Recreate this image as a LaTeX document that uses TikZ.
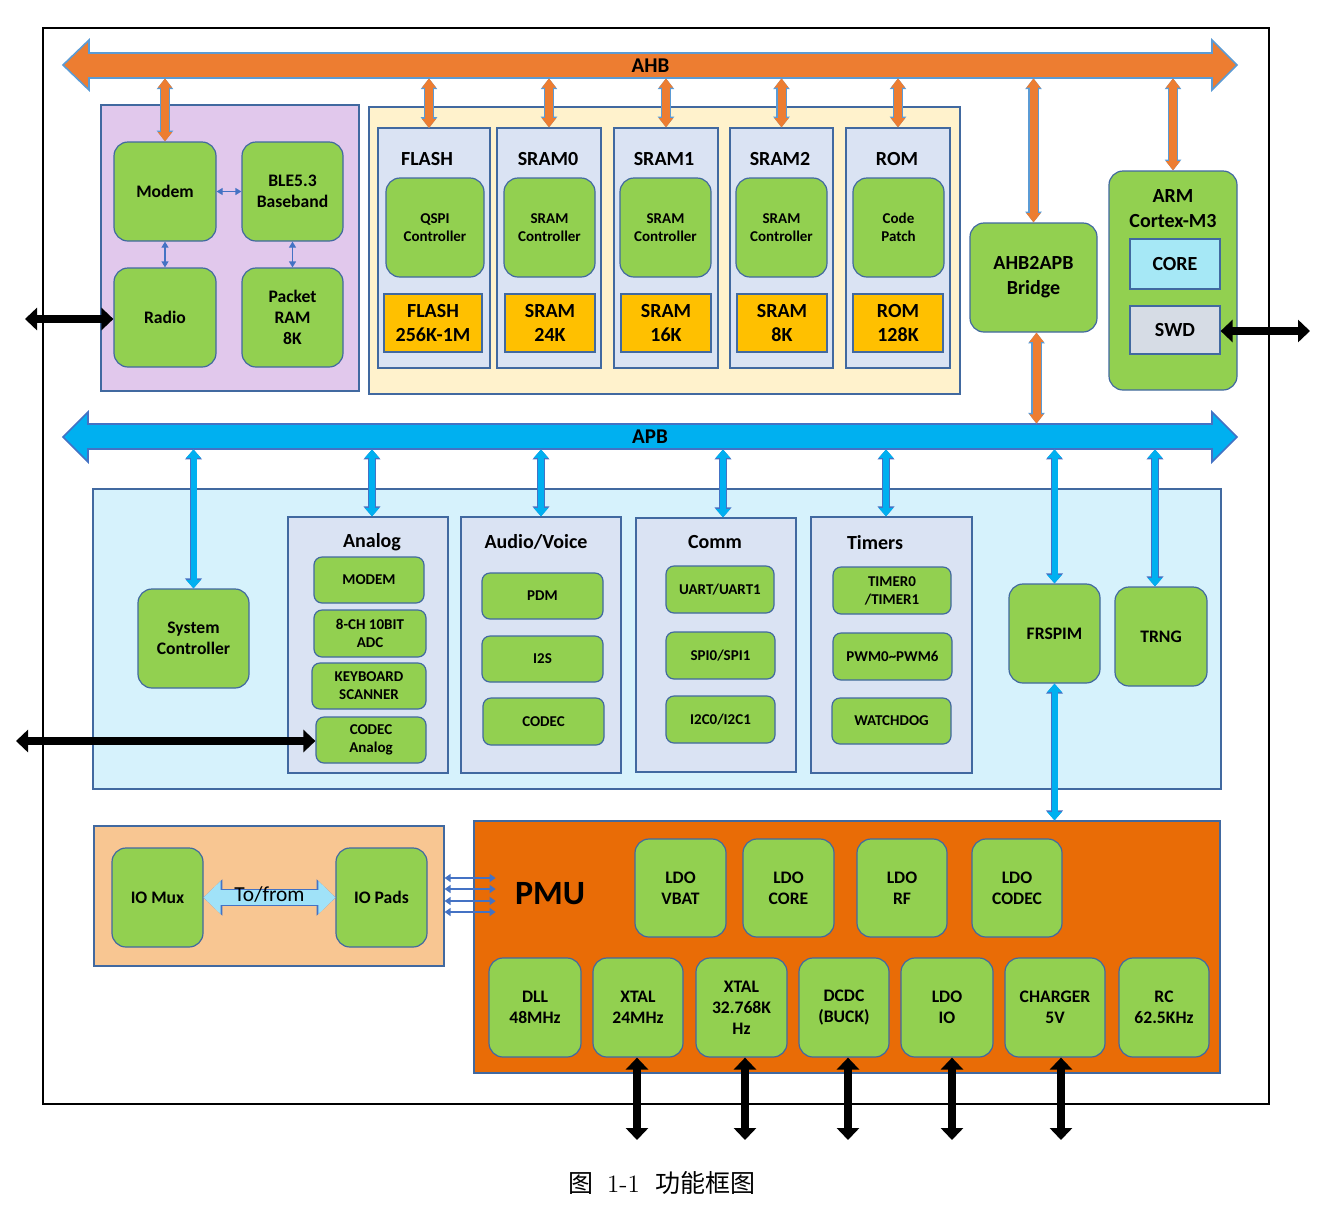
\documentclass[tikz,border=0pt]{standalone}
\usepackage{fontspec}
\setmainfont{Carlito}
\newfontfamily\cjkfont{Noto Sans CJK SC}
\newfontfamily\capfont{Latin Modern Roman}
\definecolor{blkgreen}{RGB}{146,208,80}
\definecolor{blkedge}{RGB}{65,105,160}
\definecolor{ahborange}{RGB}{237,125,49}
\definecolor{apbblue}{RGB}{0,176,240}
\definecolor{busedge}{RGB}{91,155,213}
\definecolor{linkblue}{RGB}{68,114,196}
\definecolor{rfpurple}{RGB}{225,200,236}
\definecolor{memcream}{RGB}{255,242,204}
\definecolor{grpblue}{RGB}{218,227,243}
\definecolor{memgold}{RGB}{255,192,0}
\definecolor{corecyan}{RGB}{166,232,246}
\definecolor{swdgrey}{RGB}{214,220,229}
\definecolor{perisky}{RGB}{214,242,252}
\definecolor{iopeach}{RGB}{248,198,146}
\definecolor{pmuorange}{RGB}{233,108,6}
\definecolor{tofromblue}{RGB}{160,226,248}
\usetikzlibrary{arrows.meta}

\begin{document}
\begin{tikzpicture}[
  x=0.5pt, y=-0.5pt,
  span/.style args={#1/#2/#3/#4}{minimum width={(#3-#1)*0.5pt}, minimum height={(#4-#2)*0.5pt},
    at={({(#1+#3)/2},{(#2+#4)/2})}},
  rgn/.style={draw=blkedge, line width=0.6pt, inner sep=0pt},
  grp/.style={rgn, fill=grpblue},
  blk/.style={draw=blkedge, fill=blkgreen, line width=0.6pt, rounded corners=7pt,
    inner sep=0pt, align=center, font=\fontsize{8.8}{10.5}\selectfont\bfseries},
  sblk/.style={blk, rounded corners=4pt, font=\fontsize{7.5}{9}\selectfont\bfseries},
  ctl/.style={blk, font=\fontsize{7.5}{9}\selectfont\bfseries},
  memsz/.style={rgn, fill=memgold, align=center, font=\fontsize{10}{12}\selectfont\bfseries},
  ttl/.style={inner sep=0pt, align=center, font=\fontsize{10}{12.5}\selectfont\bfseries},
  busttl/.style={inner sep=0pt, font=\fontsize{10.5}{12}\selectfont\bfseries},
  ahbarw/.style={line width=4pt, ahborange,
    arrows={Triangle[width=6.8pt,length=4.6pt]-Triangle[width=6.8pt,length=4.6pt]},
    preaction={draw=busedge, line width=5.2pt,
      arrows={Triangle[width=8pt,length=5.4pt]-Triangle[width=8pt,length=5.4pt]}}},
  apbarw/.style={line width=3pt, apbblue,
    arrows={Triangle[width=7pt,length=4.2pt]-Triangle[width=7pt,length=4.2pt]},
    preaction={draw=linkblue, line width=3.8pt,
      arrows={Triangle[width=8.2pt,length=5pt]-Triangle[width=8.2pt,length=5pt]}}},
  pinarw/.style={line width=4pt, black,
    arrows={Triangle[width=11pt,length=6pt]-Triangle[width=11pt,length=6pt]}},
  lnk/.style={line width=0.6pt, linkblue,
    arrows={Triangle[width=3.5pt,length=3pt]-Triangle[width=3.5pt,length=3pt]}},
  iolink/.style={line width=1.2pt, linkblue,
    arrows={Triangle[width=4pt,length=3pt]-Triangle[width=4pt,length=3pt]}},
  tofrom/.style={line width=7.5pt, tofromblue,
    arrows={Triangle[width=16pt,length=8.5pt]-Triangle[width=16pt,length=8.5pt]},
    preaction={draw=linkblue, line width=8.5pt,
      arrows={Triangle[width=17.6pt,length=9.4pt]-Triangle[width=17.6pt,length=9.4pt]}}},
]
\useasboundingbox (0,0) rectangle (1322,1206);
\draw[line width=0.6pt] (43,28) rectangle (1269,1104);

% buses
\draw[draw=busedge, fill=ahborange, line width=0.8pt] (63,65) -- (89,40) -- (89,53) -- (1212,53)
  -- (1212,40) -- (1237,65) -- (1212,90) -- (1212,78) -- (89,78) -- (89,90) -- cycle;
\node[busttl, span=89/53/1212/78] (ahb) {AHB};
\draw[draw=linkblue, fill=apbblue, line width=0.8pt] (63,437) -- (88,412) -- (88,424) -- (1212,424)
  -- (1212,412) -- (1237,437) -- (1212,462) -- (1212,449) -- (88,449) -- (88,462) -- cycle;
\node[busttl, span=88/424/1212/449] (apb) {APB};

% radio
\node[rgn, fill=rfpurple, span=101/105/359/391] (rfsys) {};
\node[blk, span=114/142/216/241] (modem) {Modem};
\node[blk, span=242/142/343/241] (ble) {BLE5.3\\Baseband};
\node[blk, span=114/268/216/367] (radio) {Radio};
\node[blk, span=242/268/343/367] (pram) {Packet\\RAM\\8K};

% memories
\node[rgn, fill=memcream, span=369/107/960/394] (memsys) {};
\node[grp, span=378/128/490/368] (flash) {};
\node[grp, span=497/128/601/368] (sram0) {};
\node[grp, span=614/128/718/368] (sram1) {};
\node[grp, span=730/128/833/368] (sram2) {};
\node[grp, span=846/128/950/368] (rom) {};
\node[ttl] (flashttl) at (427,159) {FLASH};
\node[ttl] (sram0ttl) at (548,159) {SRAM0};
\node[ttl] (sram1ttl) at (664,159) {SRAM1};
\node[ttl] (sram2ttl) at (780,159) {SRAM2};
\node[ttl] (romttl) at (897,159) {ROM};
\node[ctl, span=386/178/484/277] (qspi) {QSPI\\Controller};
\node[ctl, span=504/178/595/277] (sctl0) {SRAM\\Controller};
\node[ctl, span=620/178/711/277] (sctl1) {SRAM\\Controller};
\node[ctl, span=736/178/827/277] (sctl2) {SRAM\\Controller};
\node[ctl, span=853/178/944/277] (patch) {Code\\Patch};
\node[memsz, span=384/294/482/352] (flashsz) {FLASH\\256K-1M};
\node[memsz, span=505/294/595/352] (sram0sz) {SRAM\\24K};
\node[memsz, span=621/294/711/352] (sram1sz) {SRAM\\16K};
\node[memsz, span=737/294/827/352] (sram2sz) {SRAM\\8K};
\node[memsz, span=853/294/943/352] (romsz) {ROM\\128K};

% bridge and cpu
\node[blk, font=\fontsize{10}{12.5}\selectfont\bfseries, span=970/223/1097/332] (bridge) {AHB2APB\\Bridge};
\node[blk, span=1109/171/1237/390] (arm) {};
\node[ttl] (armttl) at (1173,209) {ARM\\Cortex-M3};
\node[rgn, fill=corecyan, font=\fontsize{10}{12}\selectfont\bfseries, span=1130/239/1220/289] (core) {CORE};
\node[rgn, fill=swdgrey, font=\fontsize{10}{12}\selectfont\bfseries, span=1130/306/1220/354] (swd) {SWD};

% peripherals
\node[rgn, fill=perisky, span=93/489/1221/789] (perisys) {};
\node[blk, span=138/589/249/688] (sysctl) {System\\Controller};
\node[grp, span=288/517/448/773] (analog) {};
\node[ttl] (analogttl) at (372,542) {Analog};
\node[sblk, span=314/557/424/603] (amodem) {MODEM};
\node[sblk, span=314/610/426/657] (adc) {8-CH 10BIT\\ADC};
\node[sblk, span=312/663/426/709] (kbd) {KEYBOARD\\SCANNER};
\node[sblk, span=316/717/426/763] (acodec) {CODEC\\Analog};
\node[grp, span=461/517/621/773] (audio) {};
\node[ttl] (audiottl) at (536,542) {Audio/Voice};
\node[sblk, span=482/573/603/619] (pdm) {PDM};
\node[sblk, span=482/636/603/682] (i2s) {I2S};
\node[sblk, span=483/698/604/745] (codec) {CODEC};
\node[grp, span=636/518/796/772] (comm) {};
\node[ttl] (commttl) at (715,542) {Comm};
\node[sblk, span=666/566/774/613] (uart) {UART/UART1};
\node[sblk, span=666/632/775/679] (spi) {SPI0/SPI1};
\node[sblk, span=666/696/775/743] (i2c) {I2C0/I2C1};
\node[grp, span=811/517/972/773] (timers) {};
\node[ttl] (timersttl) at (875,543) {Timers};
\node[sblk, span=833/567/951/614] (timer) {TIMER0\\/TIMER1};
\node[sblk, span=833/633/952/680] (pwm) {PWM0\textasciitilde PWM6};
\node[sblk, span=832/698/951/744] (wdog) {WATCHDOG};
\node[blk, span=1009/584/1100/683] (frspim) {FRSPIM};
\node[blk, span=1115/587/1207/686] (trng) {TRNG};

% io
\node[rgn, fill=iopeach, span=94/826/444/966] (iobox) {};
\node[blk, span=112/848/203/947] (iomux) {IO Mux};
\node[blk, span=336/848/427/947] (iopads) {IO Pads};

% pmu
\node[rgn, fill=pmuorange, span=474/821/1220/1073] (pmu) {};
\node[inner sep=0pt, font=\fontsize{17}{20}\selectfont\bfseries] (pmuttl) at (550,894) {PMU};
\node[blk, span=635/839/726/937] (vbat) {LDO\\VBAT};
\node[blk, span=743/839/834/937] (ldocore) {LDO\\CORE};
\node[blk, span=857/839/947/937] (ldorf) {LDO\\RF};
\node[blk, span=972/839/1062/937] (ldocodec) {LDO\\CODEC};
\node[blk, span=489/958/581/1057] (dll) {DLL\\48MHz};
\node[blk, span=593/958/683/1057] (xtal24) {XTAL\\24MHz};
\node[blk, span=696/958/787/1057] (xtal32) {XTAL\\32.768K\\Hz};
\node[blk, span=799/958/889/1057] (dcdc) {DCDC\\(BUCK)};
\node[blk, span=901/958/993/1057] (ldoio) {LDO\\IO};
\node[blk, span=1005/958/1105/1057] (charger) {CHARGER\\5V};
\node[blk, span=1119/958/1209/1057] (rc) {RC\\62.5KHz};

% pins and link ends
\coordinate (rfpin) at (25,319);
\coordinate (swdpin) at (1310,331);
\coordinate (cdcpin) at (16,741);
\coordinate (pin1) at (637,1140);
\coordinate (pin2) at (745,1140);
\coordinate (pin3) at (848,1140);
\coordinate (pin4) at (952,1140);
\coordinate (pin5) at (1061,1140);
\coordinate (flashtop) at (429,128);
\coordinate (brgbot) at ([xshift=1.5pt]bridge.south);
\coordinate (analogtop) at ([xshift=2pt]analog.north);
\coordinate (commtop) at ([xshift=3.5pt]comm.north);
\coordinate (timerstop) at ([xshift=-2.75pt]timers.north);
\coordinate (trngtop) at ([xshift=-3pt]trng.north);

% AHB links
\draw[ahbarw] (ahb.south -| modem.north) -- (modem.north);
\draw[ahbarw] (ahb.south -| flashtop) -- (flashtop);
\draw[ahbarw] (ahb.south -| sram0.north) -- (sram0.north);
\draw[ahbarw] (ahb.south -| sram1.north) -- (sram1.north);
\draw[ahbarw] (ahb.south -| sram2.north) -- (sram2.north);
\draw[ahbarw] (ahb.south -| rom.north) -- (rom.north);
\draw[ahbarw] (ahb.south -| bridge.north) -- (bridge.north);
\draw[ahbarw] (ahb.south -| arm.north) -- (arm.north);
\draw[ahbarw] (brgbot) -- (apb.north -| brgbot);

% APB links
\draw[apbarw] (apb.south -| sysctl.north) -- (sysctl.north);
\draw[apbarw] (apb.south -| analogtop) -- (analogtop);
\draw[apbarw] (apb.south -| audio.north) -- (audio.north);
\draw[apbarw] (apb.south -| commtop) -- (commtop);
\draw[apbarw] (apb.south -| timerstop) -- (timerstop);
\draw[apbarw] (apb.south -| frspim.north) -- (frspim.north);
\draw[apbarw] (apb.south -| trngtop) -- (trngtop);
\draw[apbarw] (frspim.south) -- (pmu.north -| frspim.south);

% local links
\draw[lnk] (modem.east) -- (ble.west);
\draw[lnk] (modem.south) -- (radio.north);
\draw[lnk] (ble.south) -- (pram.north);
\draw[tofrom] (iomux.east) -- node[text=black, font=\fontsize{10.7}{12}\selectfont, yshift=1.5pt] {To/from} (iopads.west);
\foreach \dy in {9,3.5,-2.5,-8}
  \draw[iolink] ([yshift=\dy pt]iobox.east) -- ++(51,0);

% external pins
\draw[pinarw] (rfpin) -- (radio.west |- rfpin);
\draw[pinarw] (swd.east |- swdpin) -- (swdpin);
\draw[pinarw] (cdcpin) -- (acodec.west |- cdcpin);
\draw[pinarw] (xtal24.south -| pin1) -- (pin1);
\draw[pinarw] (xtal32.south -| pin2) -- (pin2);
\draw[pinarw] (dcdc.south -| pin3) -- (pin3);
\draw[pinarw] (ldoio.south -| pin4) -- (pin4);
\draw[pinarw] (charger.south -| pin5) -- (pin5);

% caption
\node[inner sep=0pt, font=\fontsize{12.5}{14}\selectfont] (caption) at (662,1183)
  {\cjkfont 图\hspace{7pt}\capfont 1-1\hspace{8pt}\cjkfont 功能框图};
\end{tikzpicture}
\end{document}
